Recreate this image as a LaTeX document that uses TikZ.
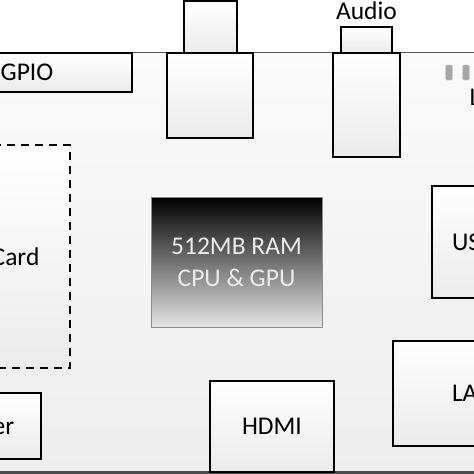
\documentclass[tikz,border=0pt]{standalone}
\usepackage{fontspec}
\setmainfont{Carlito}
\usetikzlibrary{positioning}

\begin{document}
\begin{tikzpicture}[x=1pt,y=-1pt,
		box/.style={
				rectangle, draw=black, line width=1.6pt,
				align=center, inner sep=0pt,
				font=\fontsize{25.5}{32}\selectfont,
				top color=white,
				bottom color=black!8
			},
		chip/.style={
				box, draw=black!45, line width=0.8pt,
				top color=black, bottom color=black!10,
				text=white!92!black
			},
		led/.style={
				rectangle, rounded corners=1pt, draw=black!20,
				fill=black!35, minimum width=6pt, minimum height=15pt
			},
		lbl/.style={font=\fontsize{25.5}{32}\selectfont, inner sep=0pt}
	]
	\useasboundingbox (0,0) rectangle (474,474);
	\clip (0,0) rectangle (474,474);
	% board
	\fill[top color=black!2, bottom color=black!7] (-10,53) rectangle (484,472);
	\draw[black!65, line width=1.5pt] (-10,52.5) -- (484,52.5);
	\draw[black!70, line width=3pt] (-10,472.5) -- (484,472.5);

	\node[box, minimum width=210pt, minimum height=39pt] (gpio) at (27,72.5) {GPIO};
	\node[box, minimum width=53pt, minimum height=52pt] (vidplug) at (210.5,27) {};
	\node[box, minimum width=86pt, minimum height=85pt] (vid) at (210,95.5) {};
	\node[box, minimum width=51pt, minimum height=26pt] (audplug) at (366.5,40) {};
	\node[box, minimum width=67pt, minimum height=104pt] (aud) at (366.5,105) {};
	\node[lbl] (audlbl) at (366.5,11) {Audio};
	\node[box, dash pattern=on 8pt off 6pt, minimum width=142pt, minimum height=223pt] (sd) at (-1,256.5) {SD Card};
	\node[box, minimum width=119pt, minimum height=66pt] (power) at (-18.5,426) {Power};
	\node[chip, minimum width=171pt, minimum height=130pt] (cpu) at (236.5,262) {512MB RAM\\CPU \& GPU};
	\node[box, minimum width=124pt, minimum height=91pt] (hdmi) at (272,426.5) {HDMI};
	\node[box, minimum width=82pt, minimum height=112pt] (usb) at (473,242) {USB};
	\node[box, minimum width=160pt, minimum height=105pt] (lan) at (473,393.5) {LAN};
	\node[led] (led1) at (449,72.5) {};
	\node[led, right=10pt of led1] (led2) {};
	\node[led, right=10pt of led2] (led3) {};
	\node[lbl] (ledlbl) at (494,97) {LEDs};
\end{tikzpicture}
\end{document}
